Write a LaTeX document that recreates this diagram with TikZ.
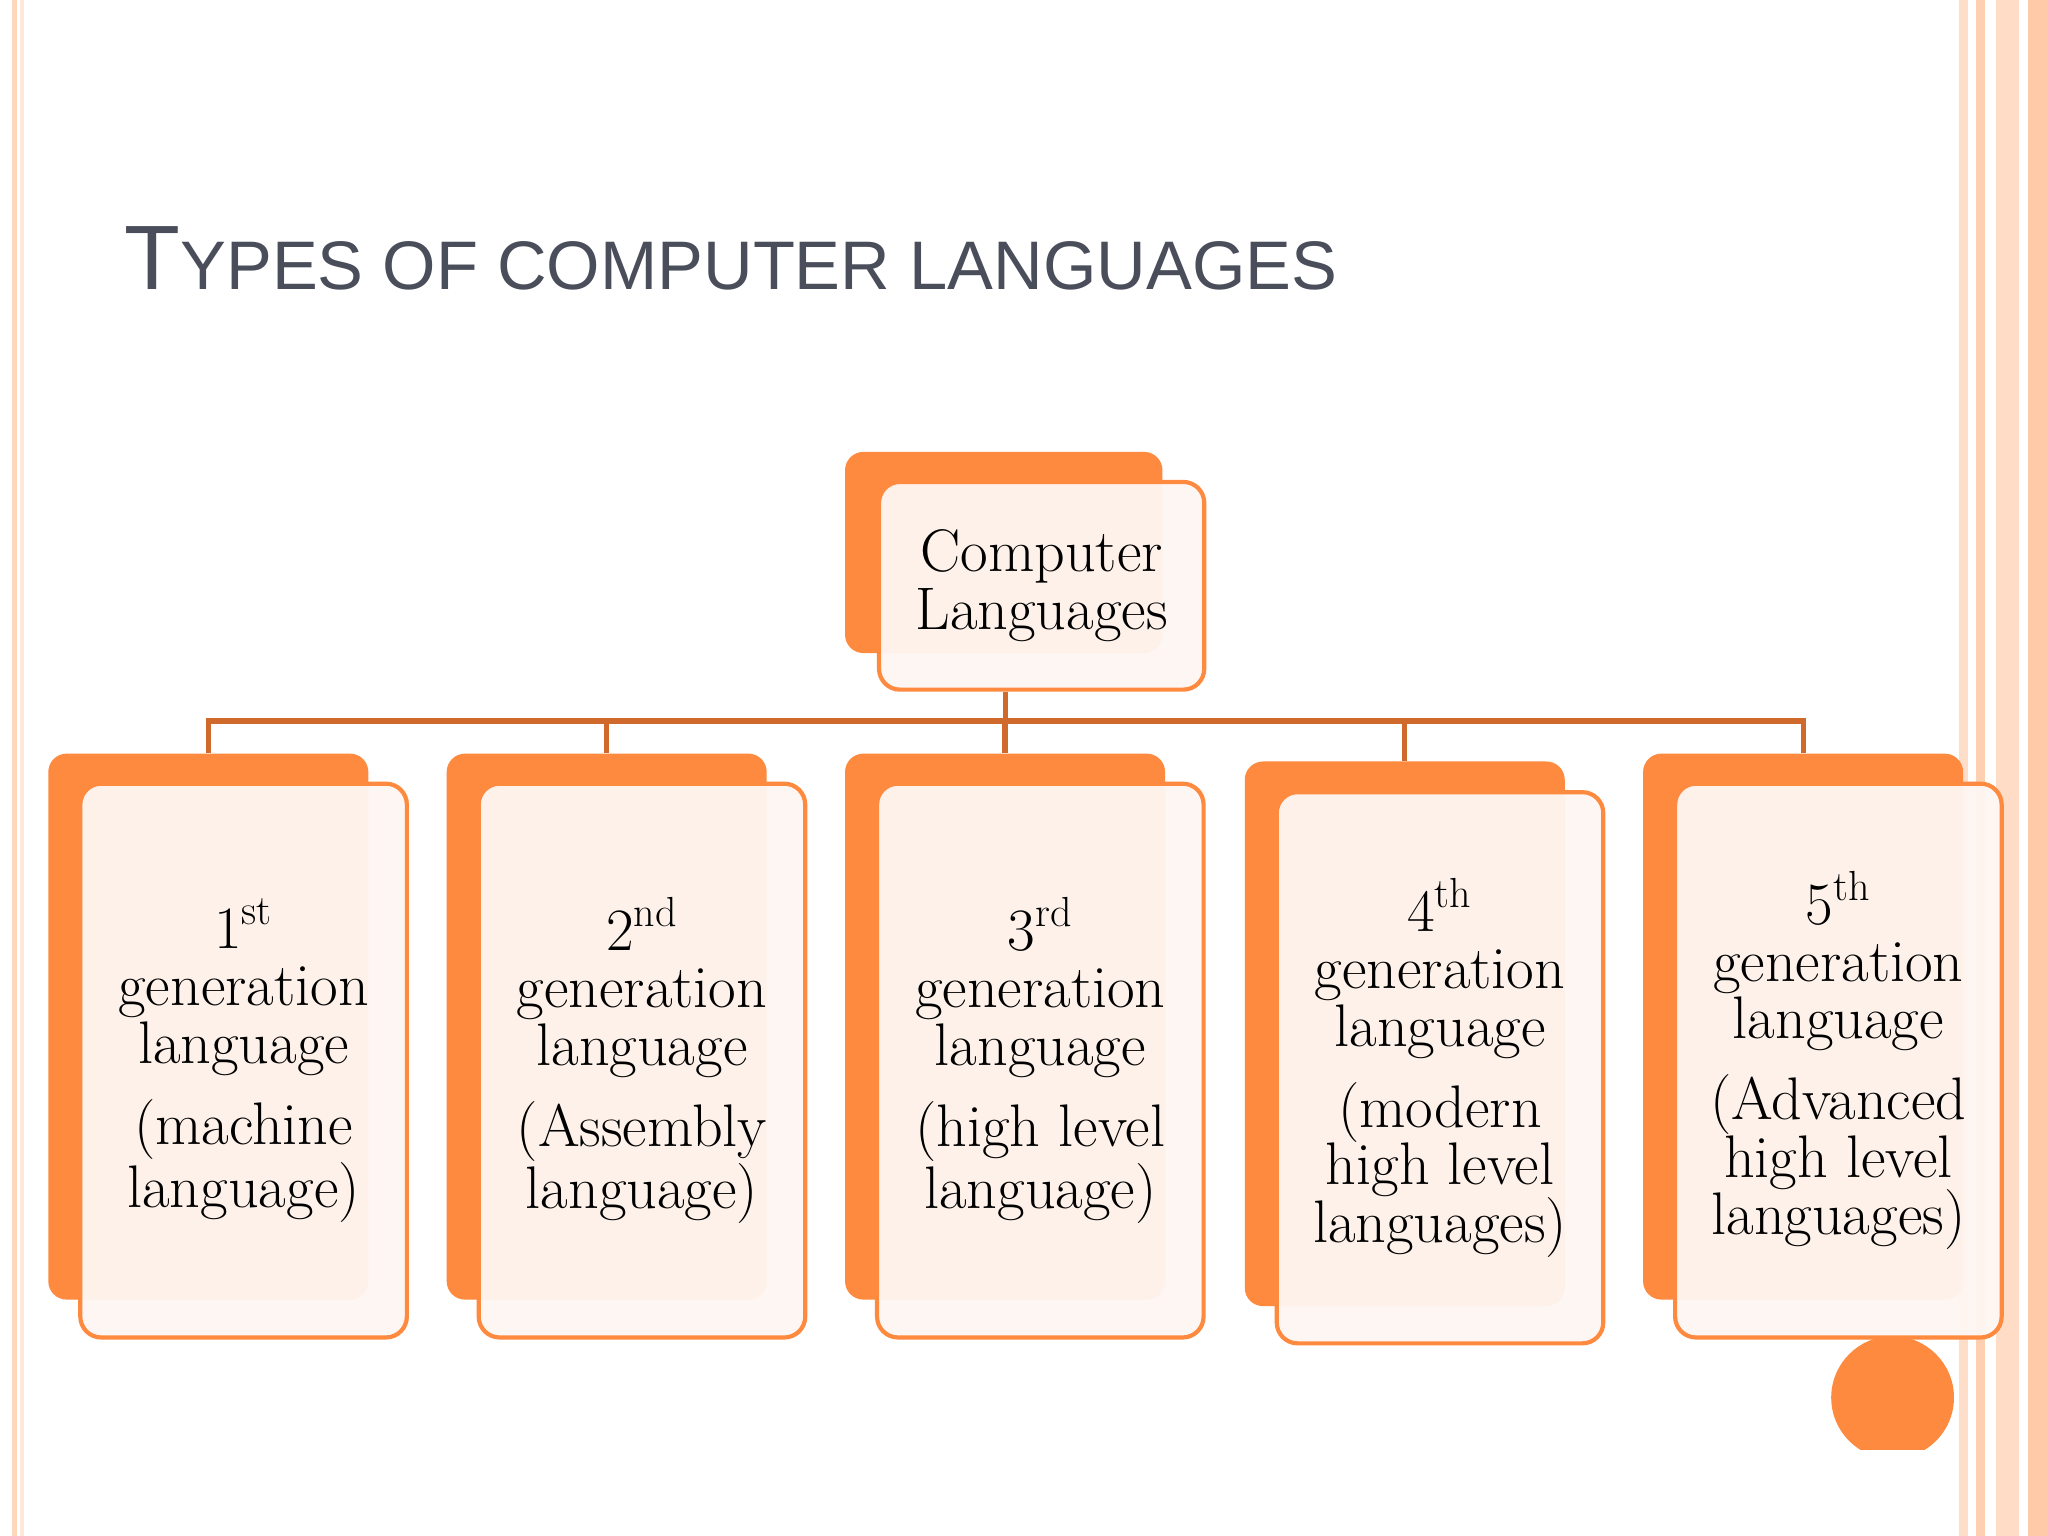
\documentclass[tikz,border=0pt]{standalone}
\usepackage{fontspec}
\newfontfamily\titlefont{Liberation Sans}
\begin{document}
\begin{tikzpicture}[x=0.5pt,y=-0.5pt]
\definecolor{org}{HTML}{FD8A3E}
\definecolor{edge}{HTML}{CF6A2C}
\definecolor{pale}{HTML}{FEF6F2}
\definecolor{ttl}{HTML}{4A4D5A}
\tikzset{
 backbox/.style={fill=org,rounded corners=7pt,inner sep=0pt},
 frontbox/.style={fill=pale,fill opacity=0.96,text opacity=1,draw=org,line width=1.6pt,rounded corners=8pt,inner sep=0pt,
   font=\fontsize{23}{22}\selectfont,align=center},
 conn/.style={draw=edge,line width=2pt}
}
\useasboundingbox (0,0) rectangle (1568,1176);
\fill[white] (0,0) rectangle (1568,1176);
% borders
\fill[org!35] (9,0) rectangle (13,1176);
\fill[org!20] (15,0) rectangle (18,1176);
\fill[org!28] (1500,0) rectangle (1507,1176);
\fill[org!40] (1513,0) rectangle (1520,1176);
\fill[org!30] (1528,0) rectangle (1546,1176);
\fill[org!45] (1553,0) rectangle (1568,1176);
% title
\node[anchor=base west,inner sep=0pt,text=ttl] (title) at (95,222)
 {\titlefont{\fontsize{35}{40}\selectfont T}{\fontsize{26.3}{30}\selectfont YPES OF COMPUTER LANGUAGES}};
% top
\node[backbox,minimum width=121.5pt,minimum height=77pt] (topb) at (768.5,423) {};
\node[frontbox,minimum width=124.5pt,minimum height=79.5pt] (top) at (797.5,448.5) {Computer\\Languages};
% children
\newcommand\child[6]{%
 \node[backbox,minimum width=122.5pt,minimum height=#4pt] (#1b) at (#2,#3) {};
 \node[frontbox,minimum width=125pt,minimum height=#6pt] (#1) at ([shift={(27,26)}]#1b.center) {#5};
}
\child{c1}{159.5}{786}{209}{1\textsuperscript{st}\\generation\\language\\[9pt](machine\\language)}{212}
\child{c2}{464.5}{786}{209}{2\textsuperscript{nd}\\generation\\language\\[9pt](Assembly\\language)}{212}
\child{c3}{769.5}{786}{209}{3\textsuperscript{rd}\\generation\\language\\[9pt](high level\\language)}{212}
\child{c4}{1075.5}{791.5}{208.5}{4\textsuperscript{th}\\generation\\language\\[9pt](modern\\high level\\languages)}{211}
\child{c5}{1380.5}{786}{209}{5\textsuperscript{th}\\generation\\language\\[9pt](Advanced\\high level\\languages)}{212}
% connectors
\coordinate (bus) at (770,552);
\draw[conn] (top.south -| 770,0) -- (bus);
\foreach \c in {c1,c2,c3,c4,c5}{\draw[conn] (bus) -| (\c b.north);}
% circle
\begin{scope}
\clip (1390,1000) rectangle (1510,1110);
\fill[org] (1449,1070) circle (47);
\end{scope}
\end{tikzpicture}
\end{document}
